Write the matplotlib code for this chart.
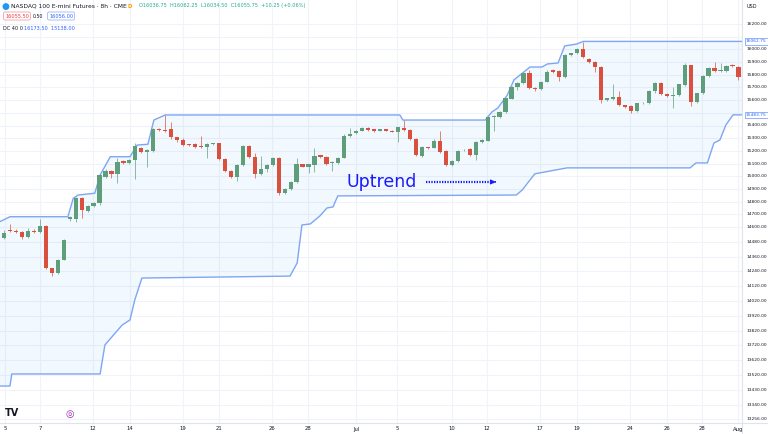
import matplotlib
matplotlib.use("Agg")
import matplotlib.pyplot as plt
import numpy as np

# ---- candle data (8h bars) ----
opens = [14510, 14576, 14565, 14557, 14520, 14570, 14560, 14610, 14265, 14225,
         14333, 14661, 14661, 14826, 14724, 14765, 14787, 14998, 15044, 15020,
         15120, 15105, 15130, 15225, 15191, 15200, 15373, 15365, 15370, 15306,
         15285, 15252, 15252, 15238, 15233, 15256, 15260, 15134, 15042, 14997,
         15087, 15241, 15154, 15018, 15055, 15089, 15142, 14870, 14898, 14957,
         15094, 15075, 15089, 15168, 15154, 15102, 15107, 15146, 15320, 15339,
         15359, 15378, 15370, 15359, 15370, 15359, 15351, 15383, 15365, 15294,
         15162, 15228, 15225, 15280, 15202, 15089, 15120, 15205, 15212, 15168,
         15268, 15280, 15470, 15465, 15509, 15611, 15706, 15733, 15811, 15698,
         15688, 15745, 15837, 15830, 15785, 15953, 15969, 16003, 15924, 15903,
         15863, 15601, 15609, 15627, 15562, 15554, 15514, 15575, 15575, 15672,
         15737, 15648, 15635, 15640, 15719, 15877, 15588, 15654, 15792, 15856,
         15829, 15833, 15877, 15863]
closes = [14550, 14570, 14560, 14521, 14570, 14557, 14610, 14265, 14225, 14333,
          14495, 14677, 14826, 14734, 14765, 14787, 15010, 15044, 15020, 15112,
          15105, 15130, 15241, 15191, 15207, 15373, 15365, 15357, 15306, 15285,
          15248, 15247, 15233, 15228, 15254, 15258, 15134, 15042, 14997, 15089,
          15241, 15154, 15018, 15055, 15089, 15142, 14870, 14900, 14957, 15094,
          15075, 15094, 15160, 15154, 15097, 15115, 15146, 15320, 15333, 15359,
          15378, 15365, 15359, 15370, 15359, 15351, 15386, 15365, 15294, 15168,
          15228, 15220, 15280, 15194, 15089, 15120, 15199, 15210, 15168, 15272,
          15286, 15465, 15470, 15509, 15614, 15706, 15737, 15811, 15698, 15688,
          15745, 15824, 15824, 15785, 15956, 15969, 16003, 15942, 15903, 15863,
          15601, 15614, 15627, 15562, 15546, 15514, 15575, 15579, 15672, 15737,
          15648, 15633, 15635, 15724, 15877, 15588, 15654, 15792, 15851, 15829,
          15837, 15872, 15869, 15785]
highs = [14575, 14625, 14580, 14570, 14590, 14585, 14660, 14615, 14270, 14340,
         14500, 14685, 14840, 14835, 14770, 14795, 15020, 15055, 15050, 15140,
         15125, 15135, 15260, 15230, 15215, 15380, 15380, 15480, 15430, 15310,
         15300, 15258, 15260, 15315, 15260, 15265, 15265, 15140, 15050, 15095,
         15250, 15250, 15185, 15160, 15095, 15150, 15150, 14905, 14965, 15140,
         15100, 15100, 15225, 15170, 15160, 15120, 15150, 15330, 15380, 15365,
         15385, 15385, 15375, 15375, 15372, 15362, 15390, 15440, 15370, 15300,
         15235, 15232, 15290, 15360, 15205, 15125, 15210, 15215, 15220, 15280,
         15295, 15470, 15480, 15515, 15620, 15715, 15745, 15820, 15840, 15705,
         15750, 15835, 15845, 15840, 15960, 15975, 16010, 16060, 15930, 15910,
         15870, 15620, 15727, 15670, 15565, 15560, 15580, 15585, 15680, 15745,
         15745, 15655, 15700, 15730, 15890, 15880, 15660, 15800, 15865, 15900,
         15890, 15878, 15885, 15870]
lows = [14500, 14560, 14550, 14500, 14510, 14550, 14550, 14260, 14205, 14215,
        14330, 14650, 14640, 14670, 14715, 14760, 14775, 14990, 14986, 14950,
        15095, 15100, 14975, 15185, 15070, 15190, 15355, 15350, 15290, 15270,
        15240, 15240, 15225, 15220, 15140, 15250, 15130, 15030, 14985, 14965,
        15080, 15140, 14990, 15010, 15030, 15080, 14855, 14860, 14890, 14950,
        15070, 15023, 15030, 15145, 15090, 15040, 15100, 15140, 15310, 15335,
        15355, 15360, 15350, 15355, 15355, 15345, 15270, 15360, 15285, 15160,
        15155, 15215, 15220, 15185, 15080, 15080, 15110, 15200, 15160, 15128,
        15260, 15275, 15355, 15460, 15500, 15605, 15680, 15725, 15690, 15675,
        15680, 15740, 15815, 15750, 15775, 15945, 15965, 15935, 15890, 15820,
        15580, 15590, 15600, 15555, 15540, 15500, 15510, 15570, 15570, 15660,
        15640, 15625, 15540, 15635, 15710, 15550, 15580, 15645, 15785, 15820,
        15825, 15825, 15860, 15760]

# ---- Donchian channel (40) breakpoints: bar index, price ----
upper_idx = [-0.7, 1.0, 10.7, 11.6, 12.4, 15.2, 16.1, 17.8, 21.1, 22.3, 24.1,
             25.1, 27.0, 66.3, 66.8, 80.6, 81.7, 82.7, 84.3, 85.4, 88.1, 90.1,
             91.0, 92.8, 93.9, 95.9, 97.0, 123.7]
upper_val = [14642, 14681, 14681, 14826, 14852, 14866, 15010, 15154, 15154,
             15246, 15252, 15443, 15483, 15483, 15443, 15443, 15506, 15538,
             15640, 15759, 15861, 15861, 15885, 15893, 16027, 16042, 16062.75,
             16062.75]
lower_idx = [-0.7, 1.0, 1.3, 16.1, 16.9, 19.8, 21.1, 21.9, 23.1, 47.9, 49.1,
             49.9, 51.3, 52.9, 54.1, 55.1, 55.9, 85.8, 86.8, 88.9, 94.3, 114.9,
             115.9, 117.8, 118.9, 119.9, 120.9, 122.1, 123.7]
lower_val = [13453, 13453, 13527, 13527, 13723, 13858, 13892, 14027, 14186,
             14202, 14308, 14616, 14624, 14687, 14750, 14758, 14845, 14852,
             14892, 15019, 15066, 15066, 15105, 15105, 15262, 15286, 15404,
             15483.75, 15483.75]

# ---- axes labels ----
price_ticks = [16200, 16000, 15900, 15800, 15700, 15600, 15400, 15300, 15200,
               15100, 15000, 14900, 14800, 14700, 14600, 14480, 14360, 14240,
               14120, 14020, 13920, 13820, 13720, 13620, 13520, 13430, 13340, 13256]
grid_ticks = price_ticks + [16100, 15500]
date_pos = [0.2, 6.0, 14.9, 21.1, 30.0, 36.0, 44.9, 50.9, 59.0, 65.8, 75.0,
            80.9, 89.8, 96.0, 104.9, 111.1, 116.9, 122.9]
date_labels = ["5", "7", "12", "14", "19", "21", "26", "28", "Jul", "5", "10",
               "12", "17", "19", "24", "26", "28", "Aug"]

# TradingView's price axis is not linear here: price -> screen pixel
MAP_P = [13236, 13256, 13340, 13430, 13520, 13620, 13720, 13820, 13920, 14020,
         14120, 14240, 14360, 14480, 14600, 16200, 16389]
MAP_Y = [423, 419.4, 404.6, 389.8, 375, 360.2, 345.4, 330.6, 315.8, 301,
         286.2, 271.4, 256.6, 241.8, 227, 24, 0]


def fwd(p):
    return -np.interp(p, MAP_P, MAP_Y)


def inv(y):
    return np.interp(-np.asarray(y), MAP_Y[::-1], MAP_P[::-1])


GREEN = "#5f9e7a"
RED = "#d9503f"
BLUE = "#7ea6f5"
TXT = "#131722"

W, H = 768, 434
fig = plt.figure(figsize=(W / 100, H / 100), dpi=100)
fig.patch.set_facecolor("white")
ax = fig.add_axes([0, 11 / H, 742 / W, 423 / H])
ax.set_yscale("function", functions=(fwd, inv))
ax.set_xlim(-0.67, 123.6)
ax.set_ylim(13236, 16389)

for p in grid_ticks:
    ax.axhline(p, color="#f0f3fa", lw=0.8, zorder=0)
for d in date_pos:
    ax.axvline(d, color="#f0f3fa", lw=0.8, zorder=0)

# channel
poly_x = upper_idx + lower_idx[::-1]
poly_y = upper_val + lower_val[::-1]
ax.fill(poly_x, poly_y, color="#2196f3", alpha=0.06, lw=0, zorder=1)
ax.plot(upper_idx, upper_val, color=BLUE, lw=1.0, zorder=2)
ax.plot(lower_idx, lower_val, color=BLUE, lw=1.0, zorder=2)

# candles
for i, (o, h, l, c) in enumerate(zip(opens, highs, lows, closes)):
    col = GREEN if c >= o else RED
    ax.vlines(i, l, h, color=col, lw=0.7, alpha=0.7, zorder=3)
    lo, hi = min(o, c), max(o, c)
    if hi - lo < 4:
        hi = lo + 4
    ax.bar(i, hi - lo, bottom=lo, width=0.7, color=col, lw=0, zorder=4)

# annotation
ax.text(57.4, 14955, "Uptrend", color="#1a1aff", fontsize=12.5,
        va="center", ha="left", zorder=6)
ax.plot([70.6, 82.0], [14955, 14955], color="#1a1aff", lw=1.6,
        linestyle=(0, (0.6, 0.6)), zorder=6)
ax.annotate("", xy=(82.8, 14955), xytext=(81.8, 14955),
            arrowprops=dict(arrowstyle="-|>", color="#1a1aff", lw=0.8,
                            mutation_scale=7), zorder=6)

ax.set_xticks([])
ax.set_yticks([])
for s in ax.spines.values():
    s.set_visible(False)


# right price axis
def ypix(p):
    return 1 - np.interp(p, MAP_P, MAP_Y) / H


fig.add_artist(plt.Line2D([742 / W, 742 / W], [0, 1], color="#e0e3eb", lw=0.8))
fig.add_artist(plt.Line2D([0, 1], [11 / H, 11 / H], color="#e0e3eb", lw=0.8))
for p in price_ticks:
    fig.text(747 / W, ypix(p), f"{p:.2f}", fontsize=3.2, color=TXT,
             va="center", ha="left")
for p, lab in [(16062.75, "16062.75"), (15483.75, "15483.75")]:
    fig.text(746 / W, ypix(p), lab, fontsize=3.2, color="#2962ff", va="center",
             ha="left", bbox=dict(boxstyle="square,pad=0.25", fc="white",
                                  ec="#7ea6f5", lw=0.6))
fig.text(747 / W, 1 - 6 / H, "USD", fontsize=3.6, color=TXT, va="center")

# bottom date axis
for d, lab in zip(date_pos, date_labels):
    xf = (d + 0.67) / 124.27 * 742 / W
    fig.text(xf, 5 / H, lab, fontsize=3.8, color=TXT, ha="center", va="center")

# header
fig.text(2 / W, 1 - 6 / H, "\u25cf", fontsize=6.5, color="#2196f3", va="center")
fig.text(11 / W, 1 - 6 / H, "NASDAQ 100 E-mini Futures \u00b7 8h \u00b7 CME",
         fontsize=4.3, color=TXT, va="center")
fig.text(127 / W, 1 - 6 / H, "D", fontsize=3.8, color="#ff9800", va="center",
         fontweight="bold")
fig.text(139 / W, 1 - 6 / H,
         "O16036.75  H16062.25  L16034.50  C16055.75  +10.25 (+0.06%)",
         fontsize=3.6, color="#22ab94", va="center")
fig.text(5 / W, 1 - 16 / H, "16055.50", fontsize=3.6, color="#f23645",
         va="center", bbox=dict(boxstyle="round,pad=0.3", fc="white",
                                ec="#f7a1a8", lw=0.6))
fig.text(33 / W, 1 - 16 / H, "0.50", fontsize=3.4, color=TXT, va="center")
fig.text(49 / W, 1 - 16 / H, "16056.00", fontsize=3.6, color="#2962ff",
         va="center", bbox=dict(boxstyle="round,pad=0.3", fc="white",
                                ec="#9db6f7", lw=0.6))
fig.text(3 / W, 1 - 28 / H, "DC 40 0", fontsize=3.6, color=TXT, va="center")
fig.text(24 / W, 1 - 28 / H, "16173.50  15138.00", fontsize=3.6,
         color="#2962ff", va="center")

fig.text(5 / W, 1 - 413 / H, "TV", fontsize=7, color=TXT, fontweight="bold",
         va="center")
fig.text(70 / W, 1 - 414 / H, "\u25ce", fontsize=7, color="#9c27b0",
         va="center", ha="center")

fig.savefig("out.png", dpi=100)
